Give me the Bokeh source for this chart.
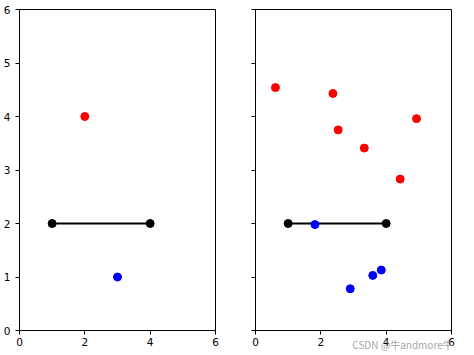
from bokeh.plotting import figure
from bokeh.layouts import row
from bokeh.models import Range1d, FixedTicker, LinearAxis
from bokeh.embed import file_html
from bokeh.resources import INLINE

# segment endpoints (shared by both panels)
seg_x = [1, 4]
seg_y = [2, 2]

# left panel
left_red_x = [2]
left_red_y = [4]
left_blue_x = [3]
left_blue_y = [1]

# right panel
right_red_x = [0.61, 2.37, 2.53, 3.33, 4.43, 4.93]
right_red_y = [4.54, 4.43, 3.75, 3.41, 2.83, 3.96]
right_blue_x = [1.82, 2.90, 3.59, 3.85]
right_blue_y = [1.98, 0.78, 1.03, 1.13]

x_ticks = [0, 2, 4, 6]
y_ticks = [0, 1, 2, 3, 4, 5, 6]

watermark = "CSDN @牛andmore牛"

FONT = "DejaVu Sans"


def make_fig(width, border_left, border_right, show_ylabels):
    p = figure(width=width, height=355, output_backend="svg", toolbar_location=None,
               x_range=Range1d(0, 6), y_range=Range1d(0, 6),
               min_border_left=border_left, min_border_right=border_right,
               min_border_top=9, min_border_bottom=25)
    p.grid.visible = False
    p.outline_line_color = "black"
    p.outline_line_width = 1
    p.outline_line_alpha = 1
    p.background_fill_color = "white"
    p.border_fill_color = "white"
    p.xaxis.ticker = FixedTicker(ticks=x_ticks)
    p.yaxis.ticker = FixedTicker(ticks=y_ticks)
    for ax in (p.xaxis, p.yaxis):
        ax.major_tick_out = 4
        ax.major_tick_in = 0
        ax.minor_tick_out = 0
        ax.minor_tick_in = 0
        ax.axis_line_color = "black"
        ax.major_tick_line_color = "black"
        ax.major_label_text_font = FONT
        ax.major_label_text_font_size = "10.5px"
        ax.major_label_text_color = "black"
    p.xaxis.major_label_standoff = 3
    p.yaxis.major_label_standoff = 5
    if not show_ylabels:
        p.yaxis.major_label_overrides = {t: "" for t in y_ticks}
        p.yaxis.major_label_standoff = 0
    return p


left = make_fig(235, 19, 20, True)
left.line(seg_x, seg_y, line_color="black", line_width=2)
left.scatter(seg_x, seg_y, size=8, fill_color="black", line_color="black")
left.scatter(left_red_x, left_red_y, size=8, fill_color="red", line_color="red")
left.scatter(left_blue_x, left_blue_y, size=8, fill_color="blue", line_color="blue")

right = make_fig(239, 20, 23, False)
right.line(seg_x, seg_y, line_color="black", line_width=2)
right.scatter(seg_x, seg_y, size=8, fill_color="black", line_color="black")
right.scatter(right_red_x, right_red_y, size=8, fill_color="red", line_color="red")
right.scatter(right_blue_x, right_blue_y, size=8, fill_color="blue", line_color="blue")

# watermark: a bare extra axis whose single label is pulled up over the tick labels
WM_POS = 4.50
wm_axis = LinearAxis(ticker=FixedTicker(ticks=[WM_POS]),
                     major_label_overrides={WM_POS: watermark},
                     axis_line_color=None, major_tick_line_color=None,
                     minor_tick_line_color=None,
                     major_tick_in=0, major_tick_out=0,
                     minor_tick_in=0, minor_tick_out=0,
                     major_label_standoff=-12,
                     major_label_text_font="Noto Sans CJK SC",
                     major_label_text_font_size="10px",
                     major_label_text_color="#999999",
                     major_label_text_alpha=0.9)
right.add_layout(wm_axis, "below")

layout = row(left, right)
open("out.html", "w").write(file_html(layout, INLINE))
